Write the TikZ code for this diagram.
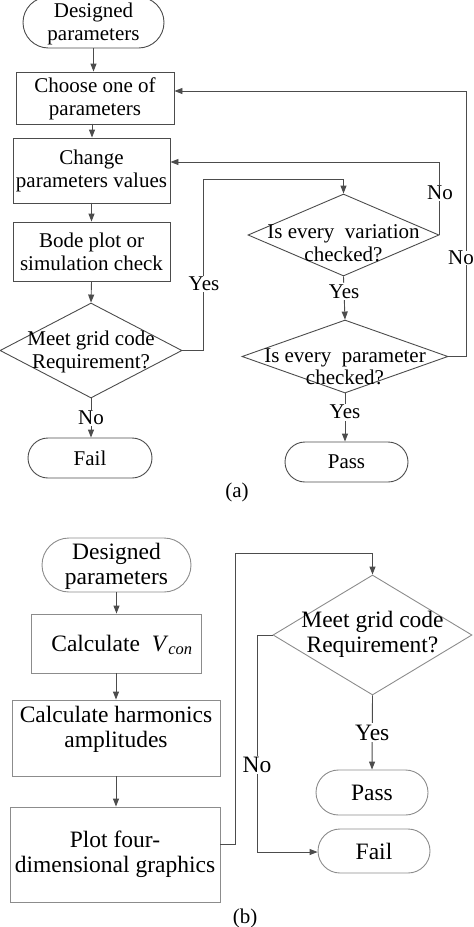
\documentclass[tikz,border=0pt]{standalone}
\usepackage{fontspec}
\setmainfont{Liberation Serif}
\usetikzlibrary{arrows.meta,shapes.geometric,shapes.misc}
\definecolor{lineA}{gray}{0.30}
\definecolor{lineB}{gray}{0.55}
\tikzset{
  txt/.style={font=\fontsize{21}{22.5}\selectfont, align=center, inner sep=0pt},
  txtb/.style={font=\fontsize{23.5}{25}\selectfont, align=center, inner sep=0pt},
  boxa/.style={draw=lineA, line width=0.9pt, rectangle, inner sep=0pt},
  boxb/.style={draw=lineB, line width=0.9pt, rectangle, inner sep=0pt},
  terma/.style={draw=lineA, line width=0.9pt, rounded rectangle, inner sep=0pt},
  termb/.style={draw=lineB, line width=0.9pt, rounded rectangle, inner sep=0pt},
  diama/.style={draw=lineA, line width=0.9pt, diamond, inner sep=0pt},
  diamb/.style={draw=lineB, line width=0.9pt, diamond, inner sep=0pt},
  conn/.style={draw=lineA, line width=0.9pt},
  arr/.style={conn, -{Triangle[length=8pt,width=6pt]}},
  lab/.style={txt, fill=white, inner sep=1.5pt},
  labb/.style={txtb, fill=white, inner sep=1.5pt}
}
\begin{document}
\begin{tikzpicture}[x=1pt,y=-1pt]
\useasboundingbox (0,0) rectangle (474,927);
% ---------------- (a) ----------------
\node[terma, minimum width=141pt, minimum height=51pt] (des1) at (93.5,22.5) {};
\node[txt] (des1t) at (93.5,24) {Designed\\parameters};
\node[boxa, minimum width=158pt, minimum height=52pt] (choose) at (95,98) {};
\node[txt] (chooset) at (95,99) {Choose one of\\parameters};
\node[boxa, minimum width=157pt, minimum height=65pt] (change) at (91.5,170.5) {};
\node[txt] (changet) at (91.5,171) {Change\\parameters values};
\node[boxa, minimum width=157pt, minimum height=59pt] (bode) at (91.5,251.5) {};
\node[txt] (bodet) at (91.5,252) {Bode plot or\\simulation check};
\node[diama, minimum width=182pt, minimum height=95pt] (dA) at (91,350.5) {};
\node[txt] (dAt) at (91,352) {Meet grid code\\Requirement?};
\node[terma, minimum width=124pt, minimum height=40pt] (fail1) at (90,458) {};
\node[txt] (fail1t) at (90,458) {Fail};
\node[diama, minimum width=191pt, minimum height=82pt] (dV) at (343.5,235) {};
\node[txt] (dVt) at (343.5,243) {Is every~ variation\\checked?};
\node[diama, minimum width=206pt, minimum height=73pt] (dP) at (345,356.5) {};
\node[txt] (dPt) at (345,367) {Is every~ parameter\\checked?};
\node[terma, minimum width=123pt, minimum height=40pt] (pass1) at (346.5,462) {};
\node[txt] (pass1t) at (346.5,462) {Pass};
\node[txt] (capa) at (237,492) {(a)};

\coordinate (ya) at (203,179);
\coordinate (nv) at (440,162);
\coordinate (np) at (466,91);

\draw[arr] (des1.south) -- (des1.south |- choose.north);
\draw[arr] (change.north -| 92,0) ++(0,-14) -- (change.north -| 92,0);
\draw[arr] (bode.north) ++(0,-19) -- (bode.north);
\draw[arr] (bode.south) -- (dA.north);
\draw[arr] (dA.south) -- node[lab] {No} (dA.south |- fail1.north);
\draw[conn] (dA.east) -| (ya);
\draw[arr] (ya) -| (dV.north);
\node[lab] (yesa) at (204,284) {Yes};
\draw[arr] (dV.south) -- node[lab, pos=0.36] {Yes} (dP.north);
\draw[arr] (dP.south) -- node[lab, pos=0.39] {Yes} (dP.south |- pass1.north);
\draw[arr] (dV.east) -- (dV.east |- nv) -- (change.east |- nv);
\node[lab] (nova) at (440,193) {No};
\draw[arr] (dP.east) -| (np) -- (choose.east |- np);
\node[lab, inner sep=0.5pt] (nopa) at (461,258) {No};

% ---------------- (b) ----------------
\node[termb, minimum width=149pt, minimum height=54pt] (des2) at (116.5,565) {};
\node[txtb] (des2t) at (116.5,566) {Designed\\parameters};
\node[boxb, minimum width=170pt, minimum height=59pt] (calc) at (116,643.5) {};
\node[txtb] (calct) at (122,645) {Calculate~ \textit{V}\textsubscript{\textit{con}}};
\node[boxb, minimum width=208pt, minimum height=76pt] (harm) at (116,738) {};
\node[txtb] (harmt) at (116,729) {Calculate harmonics\\amplitudes};
\node[boxb, minimum width=210pt, minimum height=95pt] (plot) at (115,854.5) {};
\node[txtb] (plott) at (115,854) {Plot four-\\dimensional graphics};
\node[diamb, minimum width=199pt, minimum height=120pt] (dM) at (372.5,635) {};
\node[txtb] (dMt) at (372.5,634) {Meet grid code\\Requirement?};
\node[termb, minimum width=112pt, minimum height=45pt] (pass2) at (372,792.5) {};
\node[txtb] (pass2t) at (372,792.5) {Pass};
\node[termb, minimum width=112pt, minimum height=44pt] (fail2) at (374,851) {};
\node[txtb] (fail2t) at (374,851) {Fail};
\node[txt] (capb) at (245,918) {(b)};

\coordinate (pl) at (220,844);
\coordinate (pu) at (235,553);
\coordinate (nb) at (257,852);

\draw[arr] (des2.south) -- (des2.south |- calc.north);
\draw[arr] (calc.south) -- (calc.south |- harm.north);
\draw[arr] (harm.south) -- (harm.south |- plot.north);
\draw[arr] (pl) -| (pu) -| (dM.north);
\draw[arr] (dM.south) -- node[labb] {Yes} (pass2.north);
\draw[arr] (dM.west) -| (nb) -- (fail2.west |- nb);
\node[labb] (nob) at (257,765) {No};
\end{tikzpicture}
\end{document}
